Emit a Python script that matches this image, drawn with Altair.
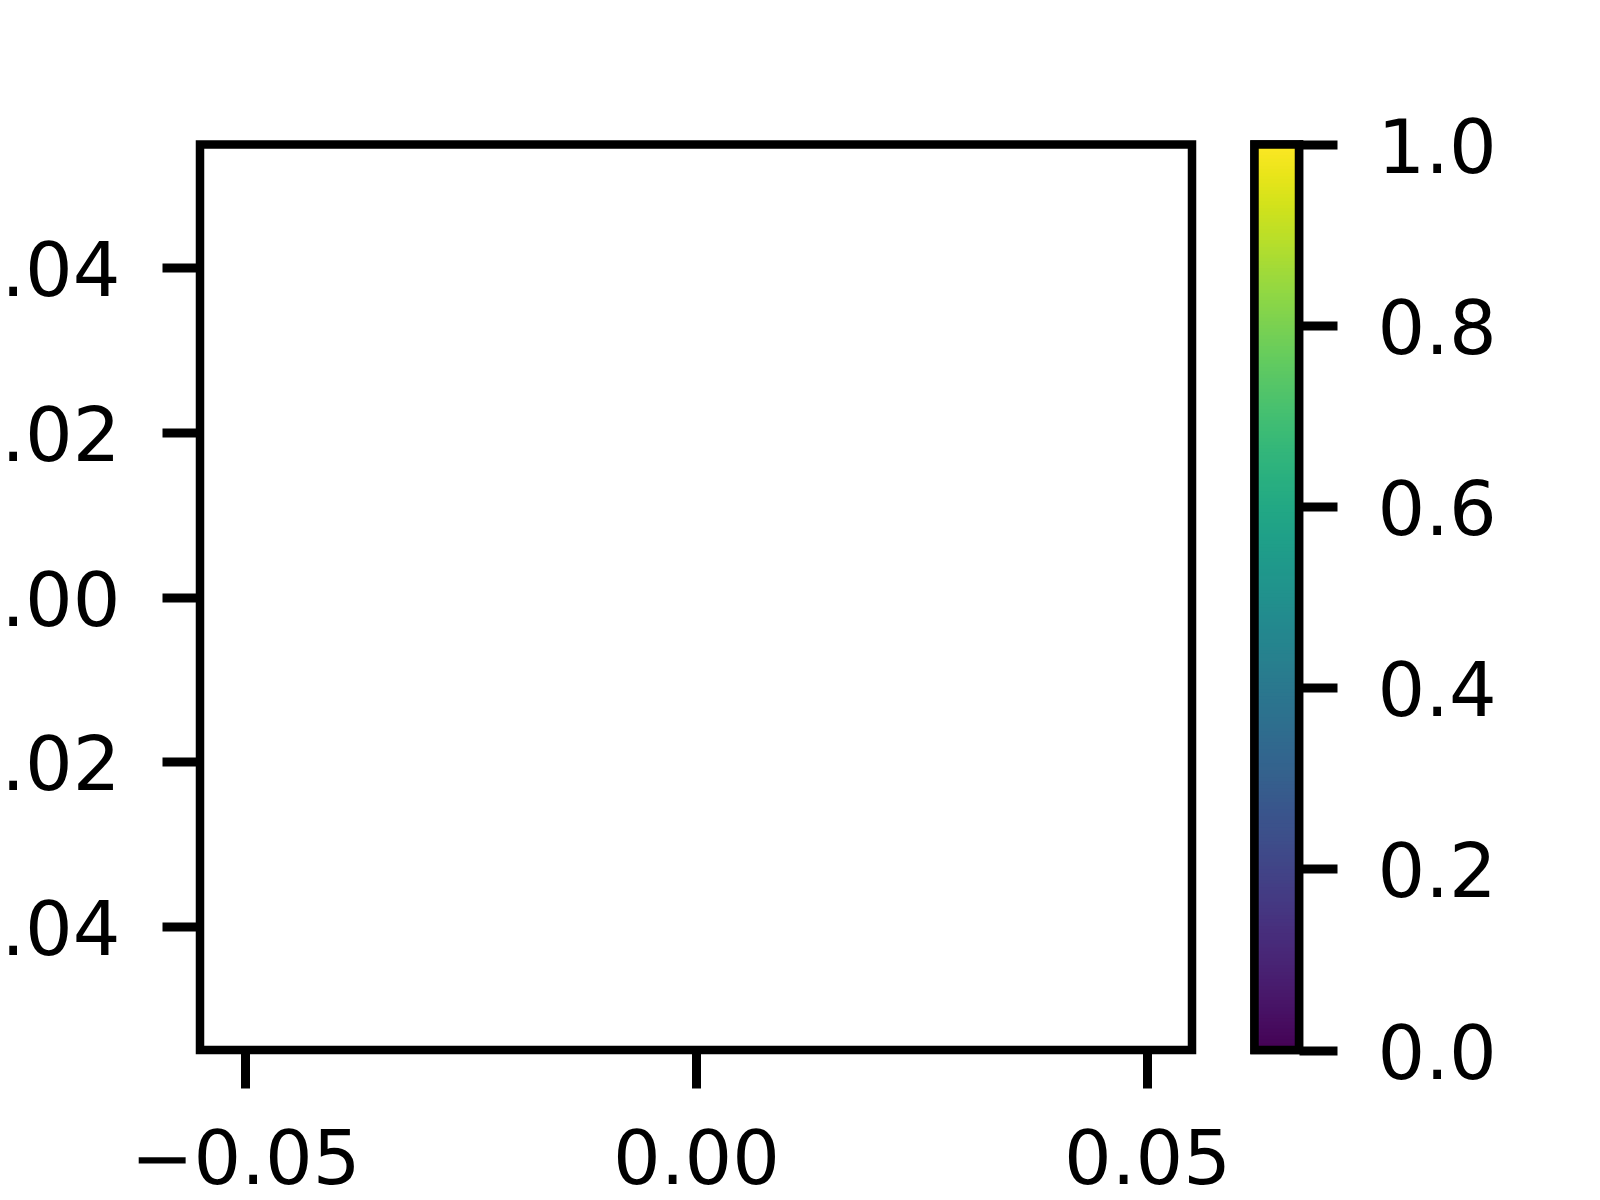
import altair as alt
import pandas as pd

# axis settings
x_domain = [-0.055, 0.055]
y_domain = [-0.055, 0.055]
x_ticks = [-0.05, 0.0, 0.05]
y_ticks = [-0.04, -0.02, 0.0, 0.02, 0.04]
cbar_ticks = [0.0, 0.2, 0.4, 0.6, 0.8, 1.0]
cbar_domain = [0.0, 1.0]
n_levels = 256

# the main axes contain no data
points = pd.DataFrame({"x": pd.Series([], dtype=float), "y": pd.Series([], dtype=float)})

# colorbar levels
cb_lo = [i / n_levels for i in range(n_levels)]
cb_hi = [min(1.0, (i + 2) / n_levels) for i in range(n_levels)]
cb_mid = [(i + 0.5) / n_levels for i in range(n_levels)]
cbar = pd.DataFrame({"lo": cb_lo, "hi": cb_hi, "v": cb_mid})
frame = pd.DataFrame({"lo": [cbar_domain[0]], "hi": [cbar_domain[1]]})

FONT = "DejaVu Sans"
FS = 75

main = alt.Chart(points).mark_point().encode(
    x=alt.X("x:Q", scale=alt.Scale(domain=x_domain, nice=False, zero=False),
            axis=alt.Axis(values=x_ticks, format=".2f", title=None, labelPadding=36,
                          labelFlush=False)),
    y=alt.Y("y:Q", scale=alt.Scale(domain=y_domain, nice=False, zero=False),
            axis=alt.Axis(values=y_ticks, format=".2f", title=None, labelPadding=42,
                          labelFlush=False, labelOffset=5)),
).properties(width=992, height=905.5)

cb_scale = alt.Scale(domain=cbar_domain, nice=False, zero=False)

bar_fill = alt.Chart(cbar).mark_rect().encode(
    y=alt.Y("lo:Q", scale=cb_scale,
            axis=alt.Axis(values=cbar_ticks, format=".1f", title=None, orient="right",
                          labelPadding=40, labelFlush=False, labelOffset=5)),
    y2="hi:Q",
    color=alt.Color("v:Q", scale=alt.Scale(scheme="viridis", domain=cbar_domain), legend=None),
)

bar_frame = alt.Chart(frame).mark_rect(filled=False, stroke="black", strokeWidth=8.5).encode(
    y=alt.Y("lo:Q", scale=cb_scale),
    y2="hi:Q",
)

bar = alt.layer(bar_fill, bar_frame).properties(width=44.5, height=905.5)

chart = alt.hconcat(main, bar, spacing=62.5, bounds="flush").properties(
    autosize=alt.AutoSizeParams(type="none"),
    padding={"left": 192, "top": 136.5, "right": 1392, "bottom": 1047},
).configure_view(
    stroke="black", strokeWidth=8.5
).configure_axis(
    domain=False, grid=False, ticks=True, tickColor="black", tickWidth=9, tickSize=38,
    labelFont=FONT, labelFontSize=FS, labelColor="black", labelOverlap=False,
    labelLimit=0,
)

chart.save("out.html", embed_options={"renderer": "svg", "actions": False})
